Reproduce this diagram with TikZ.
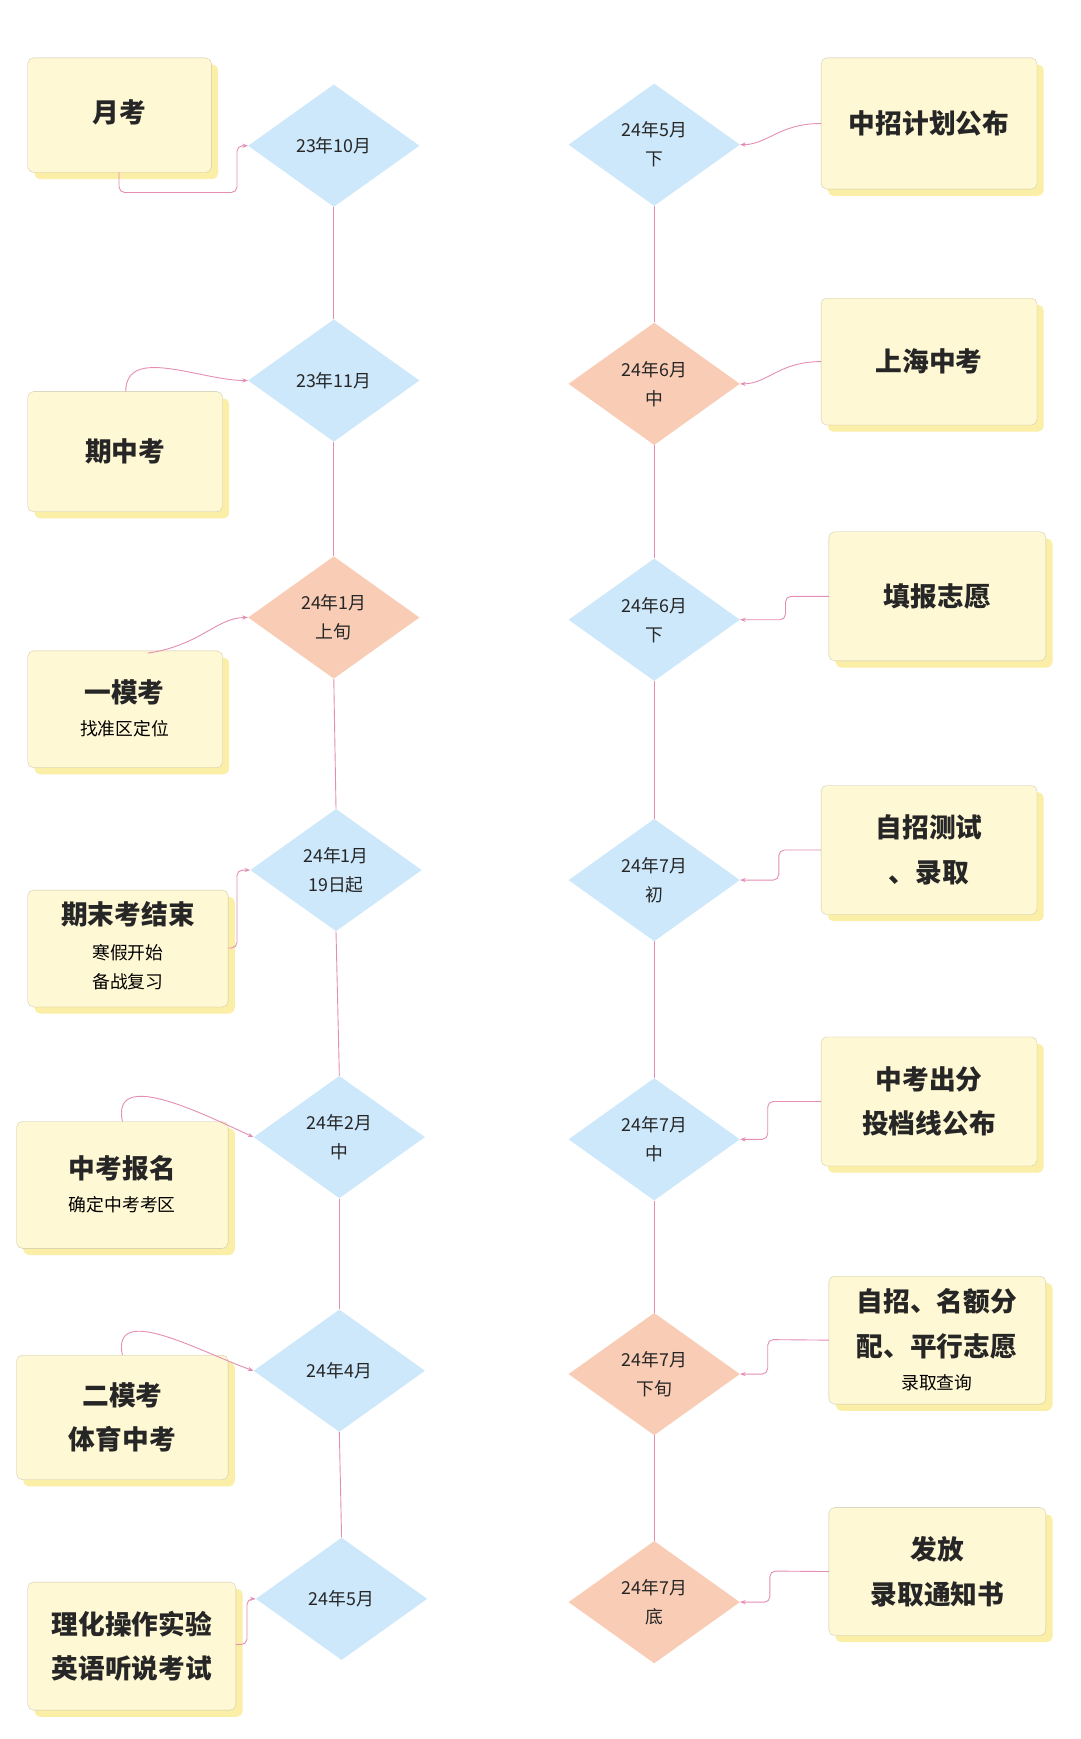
\documentclass[tikz,border=0pt]{standalone}
\usepackage{fontspec}
\newfontfamily\cjk{Noto Sans CJK SC}
\usetikzlibrary{shapes.geometric,arrows.meta}
\definecolor{dblue}{HTML}{CDE8FB}
\definecolor{dsal}{HTML}{F9CCB5}
\definecolor{bx}{HTML}{FFF8D4}
\definecolor{bxs}{HTML}{FBEEA6}
\definecolor{ln}{HTML}{E58DB3}
\tikzset{
 dia/.style={diamond,fill=dblue,minimum width=154pt,minimum height=110pt,aspect=1.4,inner sep=0pt,font=\cjk\fontsize{16}{26}\selectfont,align=center,text=black!85},
 sal/.style={dia,fill=dsal},
 box/.style={fill=bx,rounded corners=5pt,draw=bx!80!black,line width=0.3pt},
 shd/.style={fill=bxs,rounded corners=5pt},
 big/.style={font=\cjk\bfseries\fontsize{24}{40}\selectfont,align=center,text=black!85},
 sm/.style={font=\cjk\fontsize{16}{26}\selectfont},
 lk/.style={draw=ln,line width=0.8pt,rounded corners=5pt,-{Stealth[length=5pt]}},
 vl/.style={draw=ln,line width=0.8pt}
}
\newcommand{\bxx}[5]{\fill[shd] (#1+6,#3+6) rectangle (#2+6,#4+6);
 \draw[box] (#1,#3) rectangle (#2,#4);\coordinate (#5) at ({(#1+#2)/2},{(#3+#4)/2});
 \coordinate (#5w) at (#1,{(#3+#4)/2});}
\begin{document}
\begin{tikzpicture}[x=1pt,y=-1pt]
\fill[white] (0,0) rectangle (971,1563);
\useasboundingbox (0,0) rectangle (971,1563);
\node[dia] (l1) at (300,131) {23年10月};
\node[dia] (l2) at (300,342) {23年11月};
\node[sal] (l3) at (300,555) {24年1月\\上旬};
\node[dia] (l4) at (302,782) {24年1月\\19日起};
\node[dia] (l5) at (305,1022) {24年2月\\中};
\node[dia] (l6) at (305,1232) {24年4月};
\node[dia] (l7) at (307,1437) {24年5月};
\node[dia] (r1) at (588,130) {24年5月\\下};
\node[sal] (r2) at (588,345) {24年6月\\中};
\node[dia] (r3) at (588,557) {24年6月\\下};
\node[dia] (r4) at (588,791) {24年7月\\初};
\node[dia] (r5) at (588,1024) {24年7月\\中};
\node[sal] (r6) at (588,1235) {24年7月\\下旬};
\node[sal] (r7) at (588,1440) {24年7月\\底};
\foreach \a/\b in {l1/l2,l2/l3,l3/l4,l4/l5,l5/l6,l6/l7,r1/r2,r2/r3,r3/r4,r4/r5,r5/r6,r6/r7}
  \draw[vl] (\a.south) -- (\b.north);
\bxx{25}{190}{52}{155}{b1}
\node[big] at (107,101) {月考};
\bxx{25}{200}{352}{460}{b2}
\node[big] at (b2) {期中考};
\bxx{25}{200}{585}{690}{b3}
\node[big] at (112,622) {一模考};
\node[sm] at (112,655) {找准区定位};
\bxx{25}{205}{800}{905}{b4}
\node[big] at (115,822) {期末考结束};
\node[sm,align=center] at (115,869) {寒假开始\\备战复习};
\bxx{15}{205}{1008}{1122}{b5}
\node[big] at (110,1050) {中考报名};
\node[sm] at (110,1083) {确定中考考区};
\bxx{15}{205}{1218}{1330}{b6}
\node[big] at (b6) {二模考\\体育中考};
\bxx{25}{212}{1422}{1537}{b7}
\node[big] at (b7) {理化操作实验\\英语听说考试};
\bxx{738}{932}{52}{170}{c1}
\node[big] at (c1) {中招计划公布};
\bxx{738}{932}{268}{382}{c2}
\node[big] at (c2) {上海中考};
\bxx{745}{940}{478}{594}{c3}
\node[big] at (c3) {填报志愿};
\bxx{738}{932}{706}{822}{c4}
\node[big] at (c4) {自招测试\\、录取};
\bxx{738}{932}{932}{1048}{c5}
\node[big] at (c5) {中考出分\\投档线公布};
\bxx{745}{940}{1147}{1262}{c6}
\node[big] at (842,1190) {自招、名额分\\配、平行志愿};
\node[sm] at (842,1243) {录取查询};
\bxx{745}{940}{1355}{1470}{c7}
\node[big] at (c7) {发放\\录取通知书};
\coordinate (p1) at (107,155);
\draw[lk] (p1) -- (107,173) -- (213,173) -- (213,131) -- (l1.west);
\coordinate (p2) at (113,352);
\draw[lk] (p2) .. controls (113,310) and (180,342) .. (l2.west);
\coordinate (p3) at (133,587);
\draw[lk] (p3) .. controls (180,580) and (195,555) .. (l3.west);
\coordinate (p4) at (205,852);
\draw[lk] (p4) -- (213,852) -- (213,782) -- (l4.west);
\coordinate (p5) at (110,1008);
\draw[lk] (p5) .. controls (100,960) and (180,1000) .. (l5.west);
\coordinate (p6) at (110,1218);
\draw[lk] (p6) .. controls (100,1170) and (180,1215) .. (l6.west);
\coordinate (p7) at (212,1478);
\draw[lk] (p7) -- (222,1478) -- (222,1437) -- (l7.west);
\coordinate (q1) at (738,111);
\draw[lk] (q1) .. controls (700,111) and (690,130) .. (r1.east);
\coordinate (q2) at (738,325);
\draw[lk] (q2) .. controls (700,325) and (690,345) .. (r2.east);
\draw[lk] (c3w) -- (706,536) -- (706,557) -- (r3.east);
\draw[lk] (c4w) -- (700,764) -- (700,791) -- (r4.east);
\draw[lk] (c5w) -- (690,990) -- (690,1024) -- (r5.east);
\draw[lk] (c6w) -- (690,1204) -- (690,1235) -- (r6.east);
\draw[lk] (c7w) -- (692,1412) -- (692,1440) -- (r7.east);
\end{tikzpicture}
\end{document}
